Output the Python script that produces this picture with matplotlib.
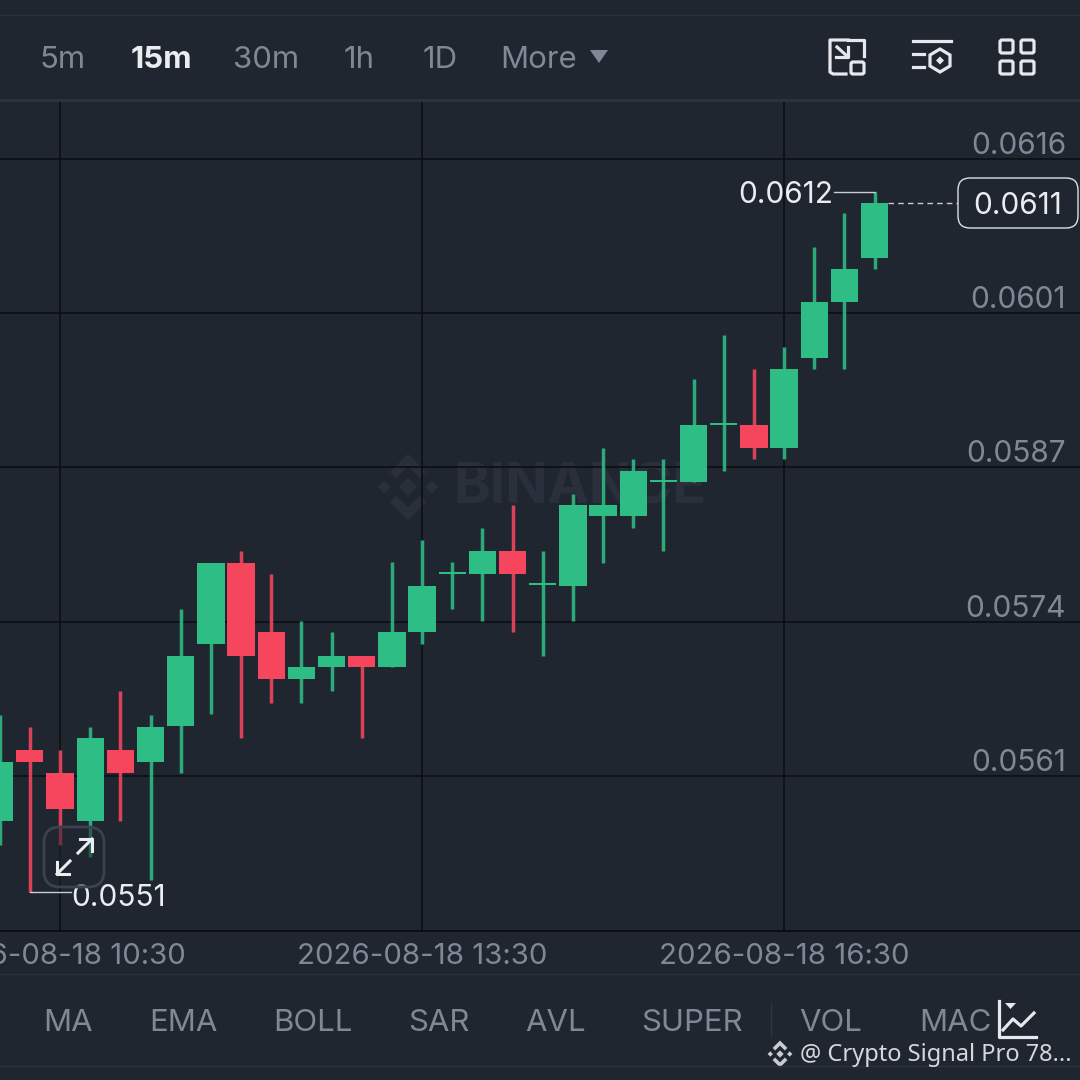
import matplotlib
matplotlib.use("Agg")
import matplotlib.pyplot as plt
from matplotlib.patches import FancyBboxPatch, Polygon, Rectangle

# ---- data ----
offsets = list(range(-2, 28))  # 15-minute candles relative to 10:30
opens = [.055718,.056337,.056137,.055718,.056337,.056233,.056546,.057261,.057967,.057366,
         .056956,.057061,.057156,.057061,.057366,.057871,.057871,.058071,.057775,.057766,
         .058376,.058376,.058673,.058673,.059170,.059170,.058969,.059753,.060241,.060625]
highs = [.056642,.056538,.056337,.056538,.056851,.056642,.057566,.057967,.058071,.057871,
         .057461,.057366,.057156,.057976,.058167,.057976,.058272,.058472,.058071,.058568,
         .058969,.058873,.058873,.059570,.059954,.059658,.059849,.060721,.061017,.061200]
lows = [.055509,.055100,.055509,.055405,.055718,.055204,.056137,.056651,.056442,.056747,
        .056747,.056851,.056442,.057061,.057261,.057566,.057461,.057366,.057156,.057461,
        .057967,.058272,.058071,.058673,.058769,.058873,.058873,.059658,.059658,.060529]
closes = [.056233,.056233,.055823,.056442,.056137,.056538,.057156,.057967,.057156,.056956,
          .057061,.057156,.057061,.057366,.057766,.057888,.058071,.057871,.057793,.058472,
          .058472,.058769,.058690,.059170,.059187,.058969,.059658,.060241,.060529,.061104]
grid_prices = [.061488, .060146, .058803, .057453, .056111]
price_labels = ["0.0616", "0.0601", "0.0587", "0.0574", "0.0561"]
date_ticks = [0, 12, 24]
date_labels = ["2026-08-18 10:30", "2026-08-18 13:30", "2026-08-18 16:30"]
interval_labels = ["5m", "15m", "30m", "1h", "1D", "More"]
indicator_labels = ["MA", "EMA", "BOLL", "SAR", "AVL", "SUPER", "VOL", "MAC"]
last_price = .061104
high_price = .0612
low_price = .0551

# ---- style ----
BG = "#1F2630"
GREEN = "#2EBD85"
RED = "#F6465D"
GRAY = "#7F8894"
WHITE = "#EAECEF"
plt.rcParams["font.family"] = ["Inter", "DejaVu Sans"]
FS = 21.5
FS_WORD = 22.4

fig = plt.figure(figsize=(10.8, 10.8), dpi=100, facecolor=BG)

def full_axes(z):
    a = fig.add_axes([0, 0, 1, 1], zorder=z)
    a.set_xlim(0, 1080); a.set_ylim(1080, 0); a.axis("off")
    return a

under = full_axes(0)
ax = fig.add_axes([0, (1080-931)/1080, 1, 831/1080], zorder=1)
top = full_axes(2)

# ---- watermark ----
WM = "#2A303B"
def diamond(a, cx, cy, r, color, **kw):
    a.add_patch(Polygon([(cx, cy-r), (cx+r, cy), (cx, cy+r), (cx-r, cy)], closed=True,
                        facecolor=color, edgecolor="none", **kw))
def logo(a, cx, cy, s, color):
    diamond(a, cx, cy, .27*s, color)
    diamond(a, cx-.72*s, cy, .2*s, color)
    diamond(a, cx+.72*s, cy, .2*s, color)
    for sign in (-1, 1):
        a.add_patch(Polygon([(cx, cy+sign*s), (cx+.55*s, cy+sign*.45*s), (cx+.36*s, cy+sign*.26*s),
                             (cx, cy+sign*.62*s), (cx-.36*s, cy+sign*.26*s), (cx-.55*s, cy+sign*.45*s)],
                            closed=True, facecolor=color, edgecolor="none"))
logo(under, 408, 487, 33, WM)
under.text(580, 488, "BINANCE", color=WM, fontsize=40, fontweight="bold", ha="center", va="center")

# ---- candles ----
ax.patch.set_visible(False)
ax.set_xlim(-60/30.17, 1020/30.17)
ax.set_ylim(.05476, .062002)
for x, o, h, l, c in zip(offsets, opens, highs, lows, closes):
    col = GREEN if c >= o else RED
    ax.vlines(x, l, h, color=col, linewidth=2.5, alpha=.88, zorder=3)
    ax.bar(x, abs(c-o), bottom=min(o, c), width=.905, color=col, linewidth=0, zorder=4)

ax.set_yticks(grid_prices)
ax.set_xticks(date_ticks)
ax.set_xticklabels(date_labels, color=GRAY, fontsize=21.2)
ax.tick_params(axis="both", length=0, labelleft=False, pad=8.5)
ax.grid(True, color="#0C0E12", linewidth=1.2, zorder=1)
ax.set_axisbelow(True)
for s in ("left", "right", "top"):
    ax.spines[s].set_visible(False)
ax.spines["bottom"].set_color("#0C0E12")
ax.spines["bottom"].set_linewidth(1.4)

for p, lab in zip(grid_prices, price_labels):
    ax.annotate(lab, (1066/1080, p), xycoords=("figure fraction", "data"), xytext=(0, 9.5),
                textcoords="offset points", ha="right", va="center", color=GRAY, fontsize=FS, zorder=5)

# ---- high / low / last markers ----
x_hi, x_lo = offsets[-1], offsets[1]
ax.plot([x_hi, x_hi-41/30.17], [high_price, high_price], color="#C9CDD3", lw=1, zorder=5)
ax.annotate("0.0612", (x_hi-41/30.17, high_price), xytext=(0, -2), textcoords="offset points",
            ha="right", va="center", color=WHITE, fontsize=FS, zorder=6)
ax.plot([x_lo, x_lo+41/30.17], [low_price, low_price], color="#C9CDD3", lw=1, zorder=5)
ax.annotate("0.0551", (x_lo+41/30.17, low_price), xytext=(0, -4), textcoords="offset points",
            ha="left", va="center", color=WHITE, fontsize=FS, zorder=6)
ax.plot([x_hi+.45, 928/30.17], [last_price, last_price], color="#C9CDD3", lw=1, dashes=(4, 3), zorder=5)

top.add_patch(FancyBboxPatch((958, 178), 120, 50, boxstyle="round,pad=0,rounding_size=12",
                             facecolor=BG, edgecolor="#DDE0E4", linewidth=1))
top.text(1018, 205.5, f"{last_price:.4f}", color=WHITE, fontsize=FS, ha="center", va="center")

# ---- expand button ----
top.add_patch(FancyBboxPatch((44, 827), 60, 60, boxstyle="round,pad=0,rounding_size=16",
                             facecolor=BG, alpha=.55, edgecolor="none"))
top.add_patch(FancyBboxPatch((44, 827), 60, 60, boxstyle="round,pad=0,rounding_size=16",
                             facecolor="none", edgecolor="#3A424E", linewidth=2))
top.plot([78, 92], [853, 839], color=WHITE, lw=2.2)
top.plot([80, 92, 92], [839, 839, 851], color=WHITE, lw=2.2)
top.plot([70, 57], [861, 874], color=WHITE, lw=2.2)
top.plot([57, 57, 69], [862, 874, 874], color=WHITE, lw=2.2)

# ---- header ----
top.plot([0, 1080], [14.5, 14.5], color="#2B323D", lw=1)
top.plot([0, 1080], [99.5, 99.5], color="#2B323D", lw=2.2)
xs = [63, 161, 266, 359, 440, 539]
for x, lab in zip(xs, interval_labels):
    on = lab == "15m"
    top.text(x, 60, lab, ha="center", va="center", fontsize=FS_WORD,
             color=WHITE if on else GRAY, fontweight="bold" if on else "normal")
top.add_patch(Polygon([(590, 50), (608, 50), (599, 63)], closed=True, facecolor=GRAY, edgecolor="none"))

IC = "#E6E8EC"
lw = 2.3
# icon 1
top.plot([848, 833, 830, 830, 833, 846], [40, 40, 40, 72, 74, 74], color=IC, lw=lw, solid_joinstyle="round")
top.plot([848, 864, 864], [39.5, 39.5, 56], color=IC, lw=lw)
top.add_patch(FancyBboxPatch((851, 62), 13, 12, boxstyle="round,pad=0,rounding_size=2", facecolor="none", edgecolor=IC, linewidth=lw))
top.plot([837, 847], [47, 56], color=IC, lw=lw)
top.plot([836, 848, 848], [57, 57, 47], color=IC, lw=lw)
# icon 2
top.plot([913, 951], [41, 41], color=IC, lw=lw)
top.plot([913, 924], [54, 54], color=IC, lw=lw)
top.plot([913, 924], [67, 67], color=IC, lw=lw)
top.add_patch(Polygon([(940, 49), (950, 55), (950, 66), (940, 72), (930, 66), (930, 55)], closed=True,
                      facecolor="none", edgecolor=IC, linewidth=lw))
diamond(top, 940, 60.5, 4, IC)
# icon 3
for cx in (999, 1020):
    for cy in (39, 60):
        top.add_patch(FancyBboxPatch((cx+1, cy+1), 13, 13, boxstyle="round,pad=0,rounding_size=2",
                                     facecolor="none", edgecolor=IC, linewidth=lw))

# ---- footer ----
top.plot([0, 1080], [973.5, 973.5], color="#2B323D", lw=1)
top.plot([0, 1080], [1065.5, 1065.5], color="#2B323D", lw=1)
top.plot([771, 771], [1003, 1036], color="#2F3641", lw=1)
xs = [68, 183, 313, 439, 556, 692, 831, 955]
for x, lab in zip(xs, indicator_labels):
    top.text(x, 1023, lab, ha="center", va="center", fontsize=FS_WORD, color=GRAY)
top.add_patch(Rectangle((972, 1000), 27, 42, facecolor=BG, alpha=.8, edgecolor="none"))
top.plot([999, 999, 1036], [1001, 1037, 1037], color=IC, lw=lw, solid_joinstyle="round")
top.plot([1003, 1013, 1021, 1034], [1030, 1019, 1026, 1013], color=IC, lw=lw)
top.add_patch(Polygon([(1005, 1003), (1016, 1003), (1010.5, 1009)], closed=True, facecolor=IC, edgecolor="none"))
logo(top, 780, 1054, 13.5, "#C8CBD0")
top.text(800, 1055, "@ Crypto Signal Pro 78...", family=["Noto Sans", "DejaVu Sans"], fontsize=17,
         color="#D5D7DB", ha="left", va="center")

fig.savefig("out.png", dpi=100, facecolor=BG)
